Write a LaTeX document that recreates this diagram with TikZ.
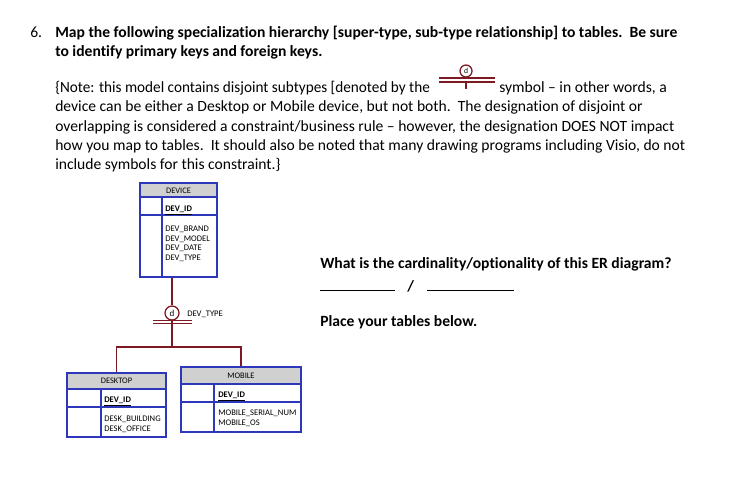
\documentclass[tikz,border=0pt]{standalone}
\usepackage{fontspec}
\setmainfont{Carlito}[Ligatures={TeX,NoCommon}]
\usetikzlibrary{positioning, calc, fit}
\definecolor{erblue}{RGB}{45, 55, 185}
\definecolor{erred}{RGB}{125, 25, 35}
\definecolor{hdrgray}{RGB}{208, 208, 208}
\tikzset{
  para/.style={anchor=base west, inner sep=0pt, font=\fontsize{11.1}{13.6}\selectfont},
  parab/.style={para, font=\fontsize{11.1}{13.6}\selectfont\bfseries},
  tbl/.style={draw=erblue, line width=0.9pt, inner sep=0pt},
  tblline/.style={erblue, line width=0.9pt},
  tblhdr/.style={inner sep=0pt, font=\fontsize{6}{7}\selectfont},
  tbltxt/.style={anchor=base west, inner sep=0pt, font=\fontsize{6.1}{7}\selectfont},
  conn/.style={erred, line width=1pt},
  dcircle/.style={circle, draw=erred, line width=0.9pt, fill=white, minimum size=0.35cm, inner sep=0pt, font=\fontsize{6.4}{7}\selectfont}
}
\begin{document}
\begin{tikzpicture}[x=0.025cm, y=-0.025cm]
        \useasboundingbox[fill=white] (0,0) rectangle (740,483);

        % Question
        \node[para] (num) at (30,37) {6.};
        \node[parab] (q1) at (55,37) {Map the following specialization hierarchy [super-type, sub-type relationship] to tables.\ \ Be sure};
        \node[parab] (q2) at (55,56) {to identify primary keys and foreign keys.};

        % Note, with the disjoint symbol inline
        \node[para] (note1) at (55,92) {\scalebox{0.975}[1]{\{Note: this model contains disjoint subtypes [denoted by the}};
        \node[dcircle, minimum size=0.3cm, font=\fontsize{5.4}{6}\selectfont] (dnote) at (466,71) {d};
        \draw[conn] (439,78) -- (495,78);
        \draw[conn] (439,82) -- (495,82);
        \draw[conn] (466,82) -- (466,89);
        \node[para] (note1b) at (499,92) {symbol – in other words, a};
        \node[para] (note2) at (55,111) {device can be either a Desktop or Mobile device, but not both.\ \ The designation of disjoint or};
        \node[para] (note3) at (55,131) {overlapping is considered a constraint/business rule – however, the designation DOES NOT impact};
        \node[para] (note4) at (55,150) {how you map to tables.\ \ It should also be noted that many drawing programs including Visio, do not};
        \node[para] (note5) at (55,169) {include symbols for this constraint.\}};

        % Right hand questions
        \node[parab] (card) at (320,268) {What is the cardinality/optionality of this ER diagram?};
        \node[parab] (blanks) at (320,291) {\rule{53pt}{0.9pt}\hspace{9pt}/\hspace{9pt}\rule{62pt}{0.9pt}};
        \node[parab] (place) at (320,326) {Place your tables below.};

        % DEVICE table
        \fill[hdrgray] (140,183) rectangle (217,197);
        \node[tbl, fit={(140,183) (217,277)}] (device) {};
        \draw[tblline] (140,197) -- (217,197);
        \draw[tblline] (140,215) -- (217,215);
        \draw[tblline] (162,197) -- (162,277);
        \node[tblhdr] (devicehdr) at (178.5,190.5) {DEVICE};
        \node[tbltxt] (devid) at (165,211) {\underline{\textbf{DEV\_ID}}};
        \node[tbltxt] (devbrand) at (165,231.5) {DEV\_BRAND};
        \node[tbltxt] (devmodel) at (165,241.2) {DEV\_MODEL};
        \node[tbltxt] (devdate) at (165,250.9) {DEV\_DATE};
        \node[tbltxt] (devtype) at (165,260.6) {DEV\_TYPE};

        % DESKTOP table
        \fill[hdrgray] (67,373) rectangle (166,389);
        \node[tbl, fit={(67,373) (166,437)}] (desktop) {};
        \draw[tblline] (67,389) -- (166,389);
        \draw[tblline] (67,407) -- (166,407);
        \draw[tblline] (101,389) -- (101,437);
        \node[tblhdr] (desktophdr) at (116.5,381) {DESKTOP};
        \node[tbltxt] (deskid) at (104,402) {\underline{\textbf{DEV\_ID}}};
        \node[tbltxt] (deskbuild) at (104,421) {DESK\_BUILDING};
        \node[tbltxt] (deskoffice) at (104,431) {DESK\_OFFICE};

        % MOBILE table
        \fill[hdrgray] (181,367) rectangle (301,384);
        \node[tbl, fit={(181,367) (301,432)}] (mobile) {};
        \draw[tblline] (181,384) -- (301,384);
        \draw[tblline] (181,402) -- (301,402);
        \draw[tblline] (214,384) -- (214,432);
        \node[tblhdr] (mobilehdr) at (241,375.5) {MOBILE};
        \node[tbltxt] (mobid) at (218,397) {\underline{\textbf{DEV\_ID}}};
        \node[tbltxt] (mobserial) at (218,415) {MOBILE\_SERIAL\_NUM};
        \node[tbltxt] (mobos) at (218,425) {MOBILE\_OS};

        % Disjoint specialization
        \node[dcircle] (dsym) at (172,313) {d};
        \node[tbltxt] (dtype) at (187,316) {DEV\_TYPE};
        \coordinate (split) at (172,347);
        \draw[conn] (device.south -| dsym) -- (dsym);
        \draw[conn] (dsym.south) -- (split);
        \draw[conn] (153,320.7) -- (192,320.7);
        \draw[conn] (153,323.7) -- (192,323.7);
        \draw[conn] (desktop.north) |- (split) -| (mobile.north);
\end{tikzpicture}
\end{document}
